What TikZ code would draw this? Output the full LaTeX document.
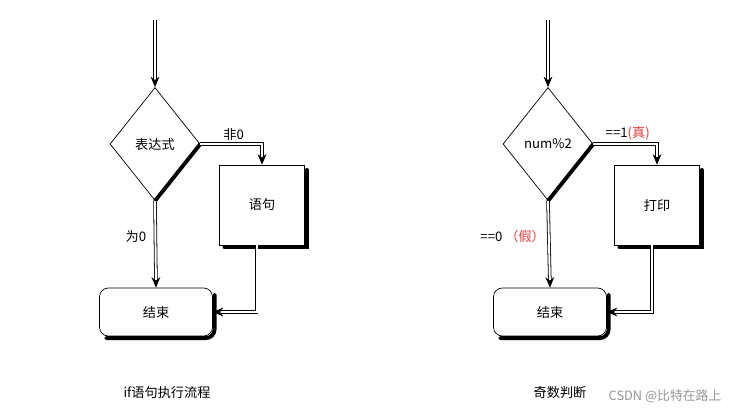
\documentclass[tikz,border=0pt]{standalone}
\usepackage{fontspec}
\setmainfont{Noto Sans CJK SC}
\usepackage{xcolor}
\definecolor{fcred}{RGB}{235,60,60}
\definecolor{fcgray}{RGB}{150,150,150}
\usetikzlibrary{arrows.meta,positioning,shapes.geometric,calc}

\tikzset{
  decision/.style={draw, thin, shape=diamond, inner sep=0pt, minimum width=1.8cm, minimum height=2.26cm, font=\fontsize{7.5}{9}\selectfont},
  stmtbox/.style={draw, thin, minimum width=1.7cm, minimum height=1.6cm, font=\fontsize{7.5}{9}\selectfont},
  endbox/.style={draw, thin, rounded corners=5pt, minimum width=2.26cm, minimum height=0.96cm, font=\fontsize{7.5}{9}\selectfont},
  flow/.style={double, double distance=1.1pt, line width=0.45pt, -{Stealth[length=6pt,width=5pt]}},
  shade/.style={line width=2.2pt, line cap=round},
  edgelabel/.style={font=\fontsize{7.5}{9}\selectfont, inner sep=2pt},
  caption/.style={font=\fontsize{7.5}{9}\selectfont}
}

\begin{document}
\begin{tikzpicture}[x=0.02cm, y=-0.02cm]
  \useasboundingbox (0,0) rectangle (732,410);

  %% if flow
  \coordinate (ifin) at (155,20);
  \node[decision] (expr) at (155,144) {表达式};
  \node[stmtbox]  (stmt) at (262,205) {语句};
  \node[endbox]   (ifend) at (156,312) {结束};
  \draw[shade] (expr.east) -- (expr.south);
  \draw[shade] ([shift={(1pt,-3pt)}]stmt.north east) -- ([shift={(1pt,-1pt)}]stmt.south east) -- ([shift={(3pt,-1pt)}]stmt.south west);
  \draw[shade, rounded corners=5pt] ([shift={(1pt,-4pt)}]ifend.north east) -- ([shift={(1pt,-1pt)}]ifend.south east) -- ([shift={(4pt,-1pt)}]ifend.south west);

  \draw[flow] (ifin) -- (expr.north);
  \draw[flow] (expr.east) -| (stmt.north) node[edgelabel, above, pos=0.27] {非0};
  \draw[flow] (expr.south) -- (ifend.north) node[edgelabel, left, pos=0.41, xshift=-3pt] {为0};
  \draw[flow] ([xshift=-3pt]stmt.south) |- (ifend.east);

  \node[caption] (ifcap) at (167,393) {if语句执行流程};

  %% odd check
  \coordinate (oddin) at (548,20);
  \node[decision] (mod)  at (548,144) {num\%2};
  \node[stmtbox]  (prt)  at (657,205) {打印};
  \node[endbox]   (oddend) at (550,312) {结束};
  \draw[shade] (mod.east) -- (mod.south);
  \draw[shade] ([shift={(1pt,-3pt)}]prt.north east) -- ([shift={(1pt,-1pt)}]prt.south east) -- ([shift={(3pt,-1pt)}]prt.south west);
  \draw[shade, rounded corners=5pt] ([shift={(1pt,-4pt)}]oddend.north east) -- ([shift={(1pt,-1pt)}]oddend.south east) -- ([shift={(4pt,-1pt)}]oddend.south west);

  \draw[flow] (oddin) -- (mod.north);
  \draw[flow] (mod.east) -| (prt.north) node[edgelabel, above, pos=0.27] {==1\textcolor{fcred}{(真)}};
  \draw[flow] (mod.south) -- (oddend.north) node[edgelabel, left, pos=0.41] {==0 \textcolor{fcred}{（假）}};
  \draw[flow] ([xshift=-3pt]prt.south) |- (oddend.east);

  \node[caption] (oddcap) at (560,393) {奇数判断};
  \node[font=\fontsize{7.3}{8}\selectfont, text=fcgray] (mark) at (665,396) {CSDN @比特在路上};
\end{tikzpicture}
\end{document}
